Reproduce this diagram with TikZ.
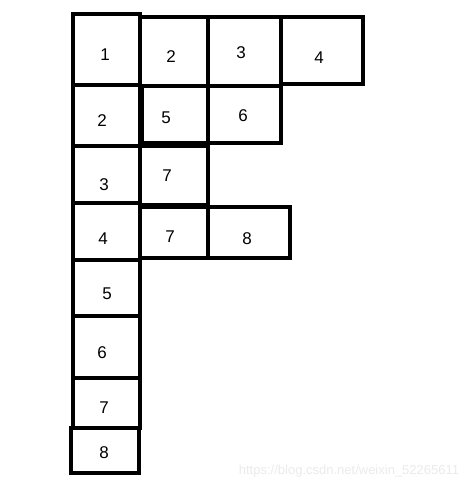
\documentclass[tikz,border=0pt]{standalone}
\usepackage{fontspec}
\setmainfont{Liberation Sans}
\begin{document}
\begin{tikzpicture}[x=1pt,y=-1pt,
  cell/.style={draw=black,line width=4pt},
  num/.style={font=\fontsize{17}{17}\selectfont,inner sep=0pt},
  wm/.style={font=\fontsize{13}{13}\selectfont,text=black!8,inner sep=0pt}]
\useasboundingbox[fill=white] (0,0) rectangle (474,487);
% left column
\draw[cell] (73,14) rectangle (140,85);
\draw[cell] (73,85) rectangle (140,146);
\draw[cell] (73,146) rectangle (140,203);
\draw[cell] (73,203) rectangle (140,260);
\draw[cell] (73,260) rectangle (140,316);
\draw[cell] (73,316) rectangle (140,378);
\draw[cell] (73,378) rectangle (140,428);
\draw[cell] (71,428) rectangle (139,473);
% row 1
\draw[cell] (140,17) rectangle (208,86);
\draw[cell] (208,17) rectangle (281,86);
\draw[cell] (281,17) rectangle (363,84);
% row 2
\draw[cell] (142,86) rectangle (208,143);
\draw[cell] (208,86) rectangle (281,143);
% row 3
\draw[cell] (140,146) rectangle (208,205);
% row 4
\draw[cell] (140,207) rectangle (208,258);
\draw[cell] (208,207) rectangle (290,258);
% labels
\node[num] (a1) at (105,55) {1};
\node[num] (a2) at (171,57) {2};
\node[num] (a3) at (241,53) {3};
\node[num] (a4) at (319,58) {4};
\node[num] (b1) at (102,121) {2};
\node[num] (b2) at (166,118) {5};
\node[num] (b3) at (243,116) {6};
\node[num] (c1) at (104,185) {3};
\node[num] (c2) at (167,176) {7};
\node[num] (d1) at (103,239) {4};
\node[num] (d2) at (170,237) {7};
\node[num] (d3) at (247,239) {8};
\node[num] (e1) at (107,294) {5};
\node[num] (f1) at (102,353) {6};
\node[num] (g1) at (104,408) {7};
\node[num] (h1) at (104,453) {8};
\node[wm] (wmk) at (349,471) {https://blog.csdn.net/weixin\_52265611};
\end{tikzpicture}
\end{document}
